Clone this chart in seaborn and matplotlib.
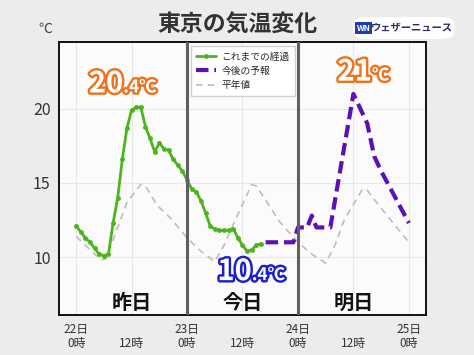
import matplotlib
matplotlib.use("Agg")
import matplotlib.pyplot as plt
import matplotlib.patheffects as pe
from matplotlib.patches import FancyBboxPatch
from matplotlib.ticker import MultipleLocator, FixedLocator
import seaborn as sns
import pandas as pd

# 観測値 (22日0時からの経過時間)
obs_hours = list(range(0, 41))
obs_temp = [12.1, 11.7, 11.3, 11.0, 10.6, 10.2, 10.1, 10.2, 12.3, 14.0,
            16.6, 18.7, 19.9, 20.1, 20.1, 18.8, 18.0, 17.1, 17.7, 17.3,
            17.2, 16.6, 16.2, 15.8, 15.2, 14.6, 14.4, 13.8, 13.0, 12.1,
            11.9, 11.8, 11.8, 11.8, 11.9, 11.3, 10.8, 10.4, 10.5, 10.8,
            10.9]

# 予報
fc_hours = [41, 47, 48, 50, 51, 52, 55, 60, 63, 64.5, 66, 72]
fc_temp = [11.0, 11.0, 12.0, 12.0, 12.8, 12.0, 12.0, 21.0, 19.0, 16.8, 15.8, 12.3]

# 平年値
nm_hours = [0, 3, 5.5, 6.5, 9, 11, 14, 15, 17.5, 20.5, 24, 27, 30, 32, 34, 38,
            39, 44, 48, 51, 54, 56, 58, 62, 63, 66, 72]
nm_temp = [11.4, 10.5, 9.8, 9.9, 12.0, 13.7, 14.9, 14.8, 13.5, 12.6, 11.3, 10.4,
           9.7, 10.8, 12.2, 14.9, 14.8, 12.4, 11.0, 10.2, 9.6, 10.8, 12.5, 14.6,
           14.5, 13.3, 11.0]

tick_hours = [0, 12, 24, 36, 48, 60, 72]
tick_labels = ["22日\n0時", "\n12時", "23日\n0時", "\n12時", "24日\n0時", "\n12時", "25日\n0時"]
day_names = ["昨日", "今日", "明日"]
day_centers = [12, 36, 60]

series_names = ["これまでの経過", "今後の予報", "平年値"]

GREEN = "#4db51c"
PURPLE = "#5e10b4"
GRAY = "#bdbdbd"
ORANGE = "#ec7420"
BLUE = "#1b20cc"

sns.set_theme(style="white")
plt.rcParams["font.family"] = ["Noto Sans CJK JP", "DejaVu Sans"]

fig = plt.figure(figsize=(4.74, 3.55), dpi=100, facecolor="#eeeceb")
ax = fig.add_axes([0.1245, 0.1127, 0.7742, 0.769])
ax.set_facecolor("#fcfbfc")

nm_df = pd.DataFrame({"hour": nm_hours, "temp": nm_temp})
obs_df = pd.DataFrame({"hour": obs_hours, "temp": obs_temp})
fc_df = pd.DataFrame({"hour": fc_hours, "temp": fc_temp})

sns.lineplot(data=nm_df, x="hour", y="temp", ax=ax, color=GRAY, lw=1.2,
             linestyle=(0, (4, 3)), label=series_names[2], zorder=2)
sns.lineplot(data=fc_df, x="hour", y="temp", ax=ax, color=PURPLE, lw=3.0,
             linestyle=(0, (3, 1.4)), label=series_names[1], zorder=3)
sns.lineplot(data=obs_df, x="hour", y="temp", ax=ax, color=GREEN, lw=2.0,
             marker="o", markersize=3.5, markeredgewidth=0,
             label=series_names[0], zorder=4)

ax.set_xlim(-3.7, 75.7)
ax.set_ylim(6.1, 24.5)

# 日付の区切り線
for h in [24, 48]:
    ax.axvline(h, color="#5f5f5f", lw=2.2, zorder=5)
for h in [0, 12, 36, 60, 72]:
    ax.axvline(h, color="#e8e8e8", lw=0.8, zorder=0)
for t in [10, 15, 20]:
    ax.axhline(t, color="#e8e8e8", lw=0.8, zorder=0)

ax.xaxis.set_major_locator(FixedLocator(tick_hours))
ax.set_xticklabels(tick_labels, linespacing=1.05)
ax.xaxis.set_minor_locator(MultipleLocator(1))
ax.yaxis.set_major_locator(FixedLocator([10, 15, 20]))
ax.yaxis.set_minor_locator(MultipleLocator(1))
ax.tick_params(axis="x", which="major", direction="out", length=4, width=1,
               labelsize=8.5, colors="#333333", pad=2)
ax.tick_params(axis="x", which="minor", direction="out", length=2, width=0.6,
               colors="#555555")
ax.tick_params(axis="y", which="major", direction="in", length=5, width=1,
               labelsize=11.5, colors="#555555", labelcolor="#333333", pad=6)
ax.tick_params(axis="y", which="minor", direction="in", length=3, width=0.6,
               colors="#555555")
ax.set_xlabel("")
ax.set_ylabel("")
for sp in ax.spines.values():
    sp.set_color("#111111")
    sp.set_linewidth(1.4)
    sp.set_visible(True)

for name, c in zip(day_names, day_centers):
    ax.text(c, 6.95, name, ha="center", va="center", fontsize=14.5,
            fontweight="bold", color="#111111", zorder=6)


def outlined(x, y, s, size, color, ha):
    ax.text(x, y, s, ha=ha, va="baseline", fontsize=size, fontweight="bold",
            color="white", zorder=7,
            path_effects=[pe.Stroke(linewidth=3.5, foreground=color), pe.Normal()])


outlined(10.2, 21.1, "20", 21, ORANGE, "right")
outlined(10.2, 21.1, ".4℃", 12.5, ORANGE, "left")
outlined(64.0, 21.9, "21", 21, ORANGE, "right")
outlined(64.0, 21.9, "℃", 12.5, ORANGE, "left")
outlined(38.0, 8.45, "10", 21, BLUE, "right")
outlined(38.0, 8.45, ".4℃", 12.5, BLUE, "left")

handles, labels = ax.get_legend_handles_labels()
order = [labels.index(n) for n in series_names]
leg = ax.legend([handles[i] for i in order], [labels[i] for i in order],
                loc="upper left", bbox_to_anchor=(0.403, 0.870),
                bbox_transform=fig.transFigure, borderaxespad=0, fontsize=7,
                frameon=True, fancybox=False, edgecolor="#d0d0d0", framealpha=1,
                handlelength=2.0, handletextpad=0.6, labelspacing=0.45,
                borderpad=0.55)
leg.set_zorder(8)

fig.text(0.5, 0.93, "東京の気温変化", ha="center", va="center", fontsize=16.5,
         fontweight="bold", color="#333333")
fig.text(0.095, 0.918, "℃", ha="center", va="center", fontsize=10, color="#444444")

# ロゴ
fig.patches.append(FancyBboxPatch((0.745, 0.89), 0.214, 0.062,
                                  boxstyle="round,pad=0,rounding_size=0.03",
                                  transform=fig.transFigure, fc="white", ec="none",
                                  mutation_aspect=0.75))
fig.text(0.767, 0.921, "WN", ha="center", va="center", fontsize=6, fontweight="bold",
         style="italic", color="white",
         bbox=dict(boxstyle="square,pad=0.15", fc="#1f3fae", ec="none"))
fig.text(0.868, 0.921, "ウェザーニュース", ha="center", va="center", fontsize=7.4,
         fontweight="bold", color="#2b2b66")

fig.savefig("out.png", dpi=100, facecolor=fig.get_facecolor())
